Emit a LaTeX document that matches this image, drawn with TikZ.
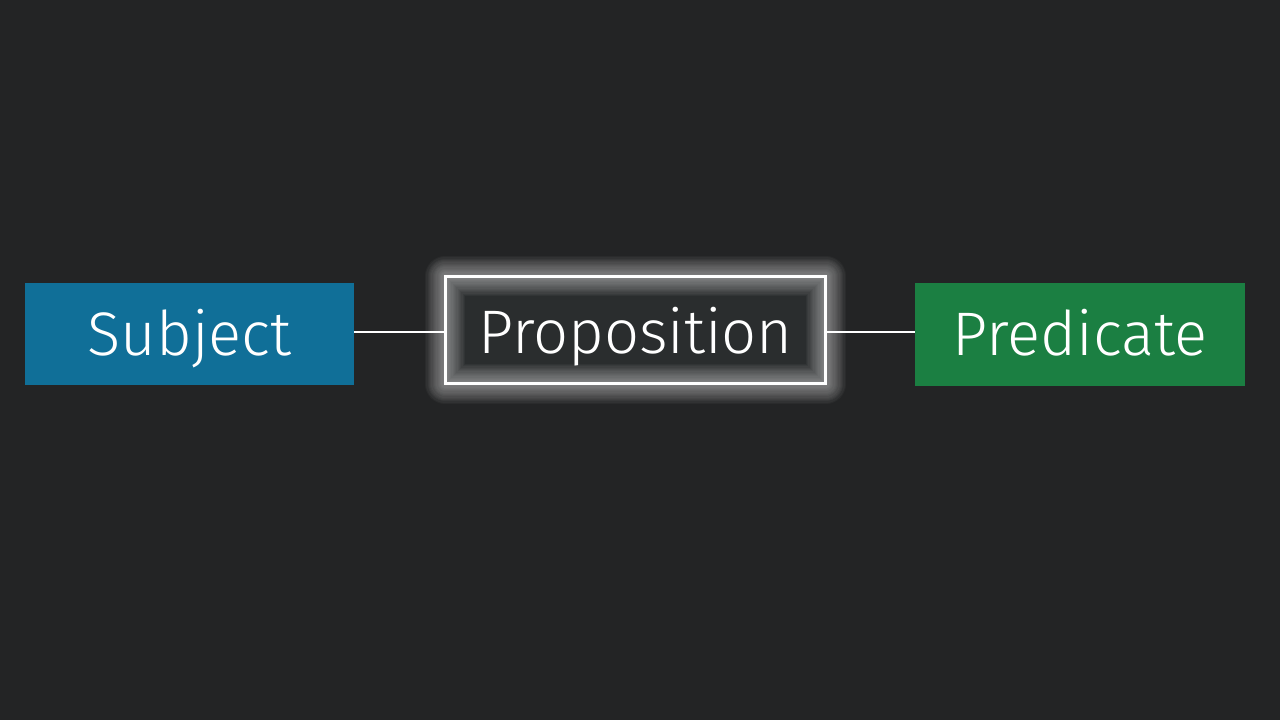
\documentclass[tikz,border=0pt]{standalone}
\usepackage{fontspec}
\setmainfont{Fira Sans Light}[Ligatures=NoCommon]
\usepackage{xcolor}
\usetikzlibrary{positioning,calc}

\definecolor{bgdark}{HTML}{232425}
\definecolor{subjblue}{HTML}{106F98}
\definecolor{predgreen}{HTML}{1B7F42}
\definecolor{propfill}{HTML}{2A2D2E}

\tikzset{
  termbox/.style={minimum height=2.05cm, minimum width=6.56cm, text=white,
    font=\fontsize{35}{38}\selectfont, inner sep=0pt, text height=0.85cm, text depth=0pt},
  propbox/.style={fill=propfill, minimum width=7.66cm, minimum height=2.2cm, inner sep=0pt,
    text=white, font=\fontsize{35}{38}\selectfont, text height=0.85cm, text depth=0pt},
  link/.style={white, line width=0.45mm}
}

\begin{document}
\begin{tikzpicture}
    \useasboundingbox (0,0) rectangle (25.6,14.4);
    \fill[bgdark] (0,0) rectangle (25.6,14.4);

    \node[propbox] (prop) at (12.71,7.8) {};
    % soft glow round the proposition
    \foreach \i in {1,...,16}{
        \draw[white, opacity=0.035, line join=round, line width=\i*0.5mm]
            ([shift={(0.03,0.03)}]prop.south west) rectangle ([shift={(-0.03,-0.03)}]prop.north east);
    }
    \draw[white, line width=0.65mm]
        ([shift={(0.03,0.03)}]prop.south west) rectangle ([shift={(-0.03,-0.03)}]prop.north east);
    \node[propbox, fill=none] at (12.71,7.76) {Proposition};

    % Subject and Predicate
    \node[termbox, fill=subjblue] (subj) at (3.79,7.72) {Subject};
    \node[termbox, fill=predgreen, minimum width=6.6cm] (pred) at (21.6,7.71) {Predicate};

    \draw[link] (subj.east |- 0,7.76) coordinate (a) -- (a -| prop.west);
    \draw[link] (prop.east |- 0,7.76) coordinate (b) -- (b -| pred.west);

\end{tikzpicture}
\end{document}
